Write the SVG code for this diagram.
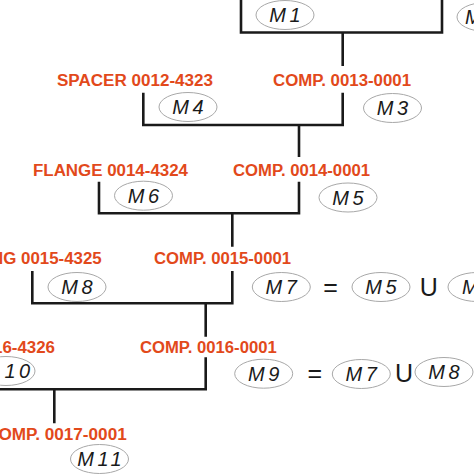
<svg xmlns="http://www.w3.org/2000/svg" width="474" height="474" viewBox="0 0 474 474">
<style>
.lbl{font-family:"Liberation Sans",Arial,sans-serif;font-weight:bold;font-size:16px;fill:#e2491b}
.m{font-family:"Liberation Sans",Arial,sans-serif;font-style:italic;font-size:20px;fill:#1a1a1a;text-anchor:middle;letter-spacing:3.5px}
.ell{fill:#fff;stroke:#a8a8a8;stroke-width:1}
.op{font-family:"Liberation Sans",Arial,sans-serif;font-size:25px;fill:#1a1a1a;text-anchor:middle}
.ln{fill:none;stroke:#1a1a1a;stroke-width:2.6}
</style>
<rect width="474" height="474" fill="#fff"/>
<g id="connectors">
<path class="ln" d="M241,0 V32.5 H442 V0 M342.7,32.5 V66"/>
<path class="ln" d="M143.3,92.7 V125 H342.7 V92.7 M299,125 V157"/>
<path class="ln" d="M99,181.7 V213.3 H299 V181.7 M232.3,213.3 V246.7"/>
<path class="ln" d="M32.3,271 V303.3 H232.3 V271 M205.7,303.3 V336.7"/>
<path class="ln" d="M-20,357.3 V389.3 H205.7 V357.3 M54.3,389.3 V423.3"/>
</g>
<g id="labels">
<text class="lbl" x="57" y="86" textLength="156" lengthAdjust="spacingAndGlyphs">SPACER 0012-4323</text>
<text class="lbl" x="273" y="86" textLength="138" lengthAdjust="spacingAndGlyphs">COMP. 0013-0001</text>
<text class="lbl" x="33" y="175.7" textLength="155" lengthAdjust="spacingAndGlyphs">FLANGE 0014-4324</text>
<text class="lbl" x="233" y="175.7" textLength="137" lengthAdjust="spacingAndGlyphs">COMP. 0014-0001</text>
<text class="lbl" x="-9" y="264.3" textLength="110.7" lengthAdjust="spacingAndGlyphs">NG 0015-4325</text>
<text class="lbl" x="154" y="264.3" textLength="137" lengthAdjust="spacingAndGlyphs">COMP. 0015-0001</text>
<text class="lbl" x="-7" y="353.3" textLength="62" lengthAdjust="spacingAndGlyphs">16-4326</text>
<text class="lbl" x="140" y="353.3" textLength="136.7" lengthAdjust="spacingAndGlyphs">COMP. 0016-0001</text>
<text class="lbl" x="-14" y="440" textLength="140.7" lengthAdjust="spacingAndGlyphs">COMP. 0017-0001</text>
</g>
<g id="m1"><ellipse class="ell" cx="285" cy="15" rx="29" ry="14.5"/><text class="m" x="286.7" y="22.2">M1</text></g>
<g id="m2"><ellipse class="ell" cx="486" cy="17" rx="29" ry="14.5"/><text class="m" x="475" y="24.2">M</text></g>
<g id="m4"><ellipse class="ell" cx="188" cy="107" rx="29" ry="14.5"/><text class="m" x="189.7" y="114.2">M4</text></g>
<g id="m3"><ellipse class="ell" cx="392.5" cy="108" rx="29" ry="14.5"/><text class="m" x="394.2" y="115.2">M3</text></g>
<g id="m6"><ellipse class="ell" cx="143.5" cy="195.7" rx="29" ry="14.5"/><text class="m" x="145.2" y="202.9">M6</text></g>
<g id="m5"><ellipse class="ell" cx="348" cy="197.5" rx="29" ry="14.5"/><text class="m" x="349.7" y="204.7">M5</text></g>
<g id="m8"><ellipse class="ell" cx="77" cy="287" rx="29" ry="14.5"/><text class="m" x="78.7" y="294.2">M8</text></g>
<g id="eq1">
<ellipse class="ell" cx="281.3" cy="287" rx="29" ry="14.5"/><text class="m" x="283" y="294.2">M7</text>
<text class="op" x="330.5" y="295.5">=</text>
<ellipse class="ell" cx="381" cy="287" rx="29" ry="14.5"/><text class="m" x="382.7" y="294.2">M5</text>
<text class="op" x="428.7" y="295.5">U</text>
<ellipse class="ell" cx="477" cy="287" rx="29" ry="14.5"/><text class="m" x="472" y="294.2">M</text>
</g>
<g id="m10"><ellipse class="ell" cx="6" cy="371" rx="29" ry="14.5"/><text class="m" x="19" y="378.2">10</text></g>
<g id="eq2">
<ellipse class="ell" cx="263.7" cy="373.7" rx="29" ry="14.5"/><text class="m" x="265.4" y="380.9">M9</text>
<text class="op" x="314.7" y="382">=</text>
<ellipse class="ell" cx="361.3" cy="374" rx="29" ry="14.5"/><text class="m" x="363" y="381.2">M7</text>
<text class="op" x="404" y="382">U</text>
<ellipse class="ell" cx="444" cy="372" rx="29" ry="14.5"/><text class="m" x="445.7" y="379.2">M8</text>
</g>
<g id="m11"><ellipse class="ell" cx="99.5" cy="459" rx="29" ry="14.5"/><text class="m" x="101.2" y="466.2">M11</text></g>
</svg>
